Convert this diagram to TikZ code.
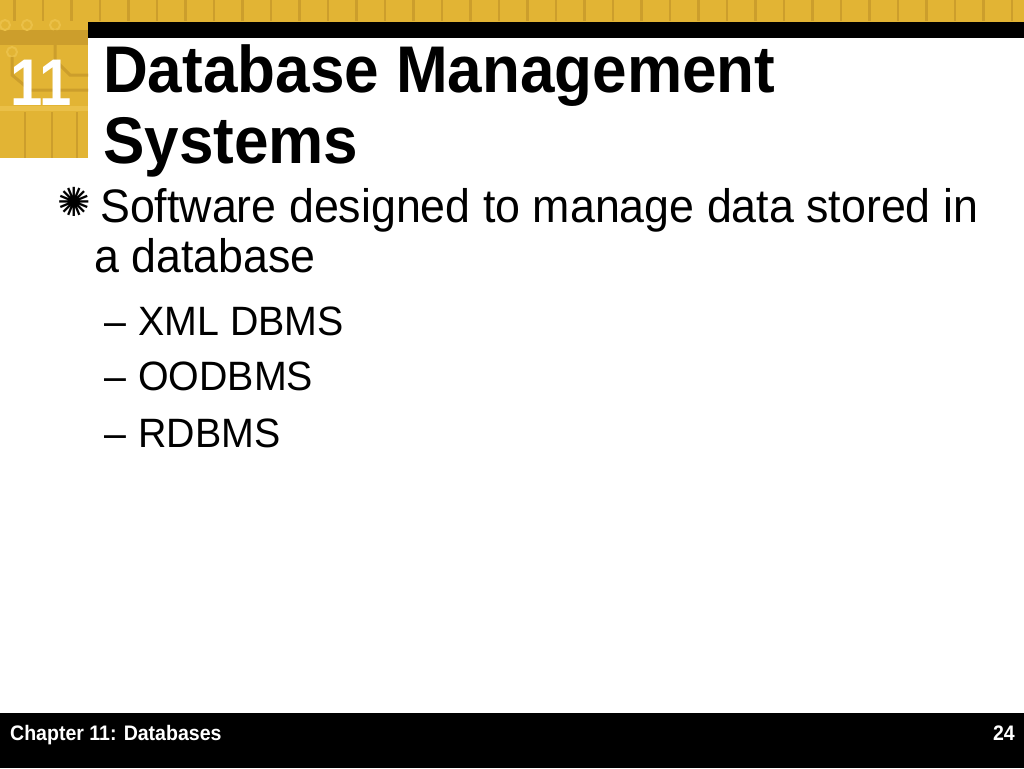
\documentclass[tikz,border=0pt]{standalone}
\usepackage{fontspec}
\setmainfont{Liberation Sans}
\newfontfamily\symfont{DejaVu Sans}
\definecolor{gold}{RGB}{226,180,52}
\definecolor{golddark}{RGB}{204,158,44}
\definecolor{goldlight}{RGB}{234,192,72}

\begin{document}
\begin{tikzpicture}[x=1pt,y=-1pt,
  title/.style={anchor=base west, inner sep=0pt, font=\fontsize{66}{70}\selectfont\bfseries\addfontfeature{FakeStretch=0.94}},
  item/.style={anchor=base west, inner sep=0pt, font=\fontsize{47}{56}\selectfont\addfontfeature{FakeStretch=0.952}},
  subitem/.style={anchor=base west, inner sep=0pt, font=\fontsize{41}{48}\selectfont\addfontfeature{FakeStretch=0.96}},
  foot/.style={anchor=base west, inner sep=0pt, text=white, font=\fontsize{21}{24}\selectfont\bfseries\addfontfeature{FakeStretch=0.93}}]
\useasboundingbox (0,0) rectangle (1024,768);
\fill[white] (0,0) rectangle (1024,768);

% gold strip and block
\fill[gold] (0,0) rectangle (1024,22);
\fill[gold] (0,0) rectangle (88,158);
\foreach \x in {14.5,43,...,1024}
  \draw[golddark, line width=2.5pt] (\x,0) -- (\x,21);
\fill[golddark] (0,30) rectangle (88,45);
\foreach \x/\y in {5/25,27/25,55/25,12/52}
  \draw[goldlight, line width=2pt] (\x,\y) circle (5);
\draw[golddark, line width=3pt] (12,57) -- (12,75) -- (30,90) -- (88,90);
\draw[golddark, line width=3pt] (55,30) -- (55,60) -- (70,75) -- (88,75);
\foreach \x in {25,52,77}
  \draw[golddark, line width=2pt] (\x,112) -- (\x,158);
\fill[goldlight] (0,106) rectangle (88,111);

% black bar
\fill[black] (88,22) rectangle (1024,38);

\node (num) at (41,83) [text=white, font=\fontsize{66}{66}\selectfont\bfseries\addfontfeature{FakeStretch=0.88}] {11};

\node (t1) at (103,92) [title] {Database Management};
\node (t2) at (103,163) [title] {Systems};

\node (star) at (74,202) [font=\symfont\fontsize{40}{40}\selectfont] {✺};
\node (i1) at (100,222) [item] {Software designed to manage data stored in};
\node (i2) at (94,272) [item] {a database};

\node (d1) at (104,335) [subitem] {–};
\node (s1) at (138,335) [subitem] {XML DBMS};
\node (d2) at (104,390) [subitem] {–};
\node (s2) at (138,390) [subitem] {OODBMS};
\node (d3) at (104,447) [subitem] {–};
\node (s3) at (138,447) [subitem] {RDBMS};

% footer
\fill[black] (0,713) rectangle (1024,768);
\node (ch) at (10,740) [foot] {Chapter 11: Databases};
\node (pg) at (1015,740) [foot, anchor=base east] {24};
\end{tikzpicture}
\end{document}
